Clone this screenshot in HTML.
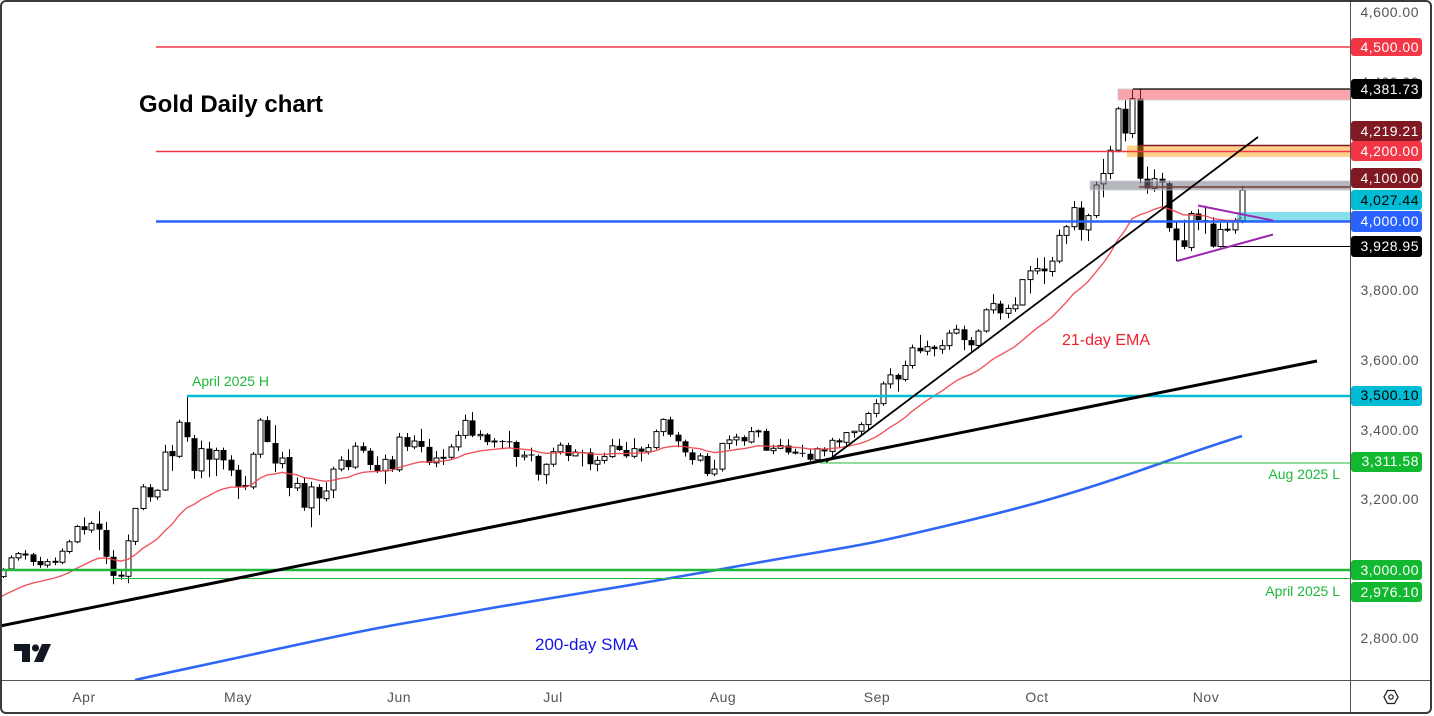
<!DOCTYPE html>
<html><head><meta charset="utf-8">
<style>
html,body{margin:0;padding:0;background:#fff;}
body{width:1434px;height:716px;overflow:hidden;position:relative;font-family:"Liberation Sans",sans-serif;}
svg{position:absolute;left:0;top:0;}
.ax{font-family:"Liberation Sans",sans-serif;font-size:14px;letter-spacing:0.5px;}
</style></head>
<body>
<svg id="s" width="1434" height="716" viewBox="0 0 1434 716" xmlns="http://www.w3.org/2000/svg">
<rect x="0" y="0" width="1434" height="716" fill="#fff"/>
<g id="candles"></g>
<path id="ema" fill="none" stroke="#f0434f" stroke-width="1.4" stroke-opacity="0.9"/>
<!-- 200 SMA -->
<path d="M135,680 C170,672 200,666 250,655 S350,633 400,624 S550,598 600,590 S700,573 750,564 S840,549 870,543 S990,516 1040,502 S1130,474 1150,467 S1220,443 1242,436" fill="none" stroke="#2f66f5" stroke-width="2.6"/>
<!-- zones -->
<rect x="1118" y="89" width="232" height="11" fill="rgba(242,54,69,0.45)" stroke="#c9ccd6" stroke-width="0.8"/>
<rect x="1127" y="145.5" width="223" height="11.5" fill="rgba(255,152,0,0.45)"/>
<rect x="1090" y="181" width="260" height="9" fill="rgba(120,123,134,0.55)" stroke="#c9ccd6" stroke-width="0.8"/>
<rect x="1237" y="212" width="113" height="9.5" fill="rgba(0,188,212,0.47)"/>
<!-- horizontal lines -->
<line x1="156" y1="47" x2="1350" y2="47" stroke="#f23645" stroke-width="1.6"/>
<line x1="156" y1="151.5" x2="1350" y2="151.5" stroke="#f23645" stroke-width="1.6"/>
<line x1="156" y1="221.5" x2="1350" y2="221.5" stroke="#2962ff" stroke-width="2.6"/>
<line x1="187" y1="396" x2="1350" y2="396" stroke="#00bcd4" stroke-width="2.6"/>
<line x1="820" y1="463" x2="1350" y2="463" stroke="#1fb83a" stroke-width="1"/>
<line x1="0" y1="570" x2="1350" y2="570" stroke="#1fb83a" stroke-width="2.6"/>
<line x1="113" y1="578.5" x2="1350" y2="578.5" stroke="#1fb83a" stroke-width="1"/>
<line x1="1133" y1="89" x2="1350" y2="89" stroke="#000" stroke-width="1.2"/>
<line x1="1140" y1="145.5" x2="1350" y2="145.5" stroke="#801922" stroke-width="1.6"/>
<line x1="1139" y1="187" x2="1350" y2="187" stroke="#7a3b3b" stroke-width="1.6"/>
<line x1="1222" y1="246.5" x2="1350" y2="246.5" stroke="#000" stroke-width="1"/>
<!-- purple triangle -->
<line x1="1198" y1="205.5" x2="1273" y2="220.5" stroke="#9c27b0" stroke-width="2"/>
<line x1="1177" y1="261" x2="1273" y2="234.5" stroke="#9c27b0" stroke-width="2"/>
<!-- trendlines -->
<line x1="0" y1="626" x2="1317" y2="361" stroke="#000" stroke-width="3"/>
<line x1="826" y1="462" x2="1258" y2="137" stroke="#000" stroke-width="1.8"/>
<!-- chart texts -->
<text x="139" y="112" font-family="Liberation Sans, sans-serif" font-size="24" font-weight="bold" fill="#000">Gold Daily chart</text>
<text x="192" y="386" font-family="Liberation Sans, sans-serif" font-size="14" fill="#1fb83a">April 2025 H</text>
<text x="1062" y="345" font-family="Liberation Sans, sans-serif" font-size="16" fill="#f2202e">21-day EMA</text>
<text x="1340" y="479" text-anchor="end" font-family="Liberation Sans, sans-serif" font-size="14" fill="#1fb83a">Aug 2025 L</text>
<text x="1340" y="596" text-anchor="end" font-family="Liberation Sans, sans-serif" font-size="14" fill="#1fb83a">April 2025 L</text>
<text x="535" y="650" font-family="Liberation Sans, sans-serif" font-size="17" fill="#1414e6">200-day SMA</text>
<!-- TV logo -->
<path d="M14,644 H30 V662 H22 V651 H14 Z" fill="#131722"/>
<circle cx="35.5" cy="648" r="3.6" fill="#131722"/>
<path d="M42,644 H51 L43,662 H34 Z" fill="#131722"/>
<!-- axes area -->
<rect x="1351" y="1" width="80" height="712" fill="#fff"/>
<rect x="1" y="681" width="1350" height="32" fill="#fff"/>
<line x1="1350.5" y1="0" x2="1350.5" y2="714" stroke="#555" stroke-width="1"/>
<line x1="0" y1="680.5" x2="1431" y2="680.5" stroke="#555" stroke-width="1"/>
<g class="ax" fill="#555" text-anchor="middle" font-size="13.5">
<text x="84" y="702">Apr</text>
<text x="238" y="702">May</text>
<text x="399" y="702">Jun</text>
<text x="553" y="702">Jul</text>
<text x="723" y="702">Aug</text>
<text x="877" y="702">Sep</text>
<text x="1037" y="702">Oct</text>
<text x="1206" y="702">Nov</text>
</g>
<!-- settings icon -->
<polygon points="1384,697 1387.5,690.5 1394.5,690.5 1398,697 1394.5,703.5 1387.5,703.5" fill="none" stroke="#222" stroke-width="1.3"/>
<circle cx="1391" cy="697" r="2.2" fill="none" stroke="#222" stroke-width="1.2"/>
<!-- price axis labels -->
<g class="ax" text-anchor="end" fill="#555">
<text x="1419" y="17">4,600.00</text>
<text x="1419" y="87">4,400.00</text>
<text x="1419" y="295">3,800.00</text>
<text x="1419" y="365">3,600.00</text>
<text x="1419" y="435">3,400.00</text>
<text x="1419" y="504">3,200.00</text>
<text x="1419" y="643">2,800.00</text>
</g>
<g class="ax" text-anchor="end">
<rect x="1351" y="38" width="71" height="18" rx="3" fill="#f23645"/><text x="1419" y="52" fill="#fff">4,500.00</text>
<rect x="1351" y="79" width="71" height="20" rx="3" fill="#000"/><text x="1419" y="94" fill="#fff">4,381.73</text>
<rect x="1351" y="121" width="71" height="20" rx="3" fill="#801922"/><text x="1419" y="136" fill="#fff">4,219.21</text>
<rect x="1351" y="141" width="71" height="20" rx="3" fill="#f23645"/><text x="1419" y="156" fill="#fff">4,200.00</text>
<rect x="1351" y="168" width="71" height="20" rx="3" fill="#801922"/><text x="1419" y="183" fill="#fff">4,100.00</text>
<rect x="1351" y="190" width="71" height="20" rx="3" fill="#00bcd4"/><text x="1419" y="205" fill="#000">4,027.44</text>
<rect x="1351" y="211" width="71" height="21" rx="3" fill="#2962ff"/><text x="1419" y="226" fill="#fff">4,000.00</text>
<rect x="1351" y="236" width="71" height="21" rx="3" fill="#000"/><text x="1419" y="251" fill="#fff">3,928.95</text>
<rect x="1351" y="386" width="71" height="20" rx="3" fill="#00bcd4"/><text x="1419" y="400" fill="#000">3,500.10</text>
<rect x="1351" y="452" width="71" height="20" rx="3" fill="#12b830"/><text x="1419" y="466" fill="#fff">3,311.58</text>
<rect x="1351" y="560" width="71" height="20" rx="3" fill="#12b830"/><text x="1419" y="575" fill="#fff">3,000.00</text>
<rect x="1351" y="582" width="71" height="20" rx="3" fill="#12b830"/><text x="1419" y="597" fill="#fff">2,976.10</text>
</g>
<rect x="1" y="1" width="1430" height="712" rx="5" fill="none" stroke="#3a3a3a" stroke-width="2"/>
</svg>
<script>
(function(){
var D=[
[2979,3004,2975,2999],[3001,3040,2995,3033],[3033,3050,3025,3045],[3042,3055,3028,3044],[3043,3047,3010,3021],
[3024,3036,3004,3012],[3012,3030,3005,3022],[3021,3034,3012,3023],[3020,3060,3015,3052],[3051,3085,3045,3079],
[3079,3128,3075,3123],
[3124,3149,3100,3113],[3113,3138,3105,3132],[3131,3167,3055,3114],[3113,3136,3015,3036],[3036,3055,2957,2981],
[2981,3000,2970,2983],[2980,3100,2960,3082],[3080,3176,3070,3175],[3175,3245,3170,3237],[3236,3245,3194,3207],
[3208,3230,3200,3227],[3228,3358,3225,3337],[3340,3357,3283,3325],[3325,3430,3320,3423],[3423,3500,3367,3380],
[3377,3386,3260,3283],[3283,3370,3262,3347],[3347,3367,3265,3315],[3317,3350,3268,3342],[3343,3350,3287,3313],
[3315,3328,3268,3284],
[3286,3300,3202,3238],[3240,3268,3228,3241],[3237,3337,3230,3331],[3331,3435,3320,3429],[3429,3440,3365,3366],
[3363,3414,3280,3304],[3304,3338,3290,3320],[3323,3345,3210,3234],[3234,3264,3225,3247],[3248,3265,3168,3177],
[3177,3252,3121,3237],[3237,3245,3156,3204],[3203,3250,3195,3225],[3228,3295,3205,3288],[3288,3325,3282,3314],
[3314,3345,3285,3294],[3294,3365,3288,3354],[3354,3365,3335,3341],[3341,3348,3285,3300],[3300,3325,3277,3283],
[3283,3330,3245,3316],[3316,3326,3280,3288],
[3286,3392,3280,3380],[3380,3392,3340,3352],[3352,3385,3345,3369],[3369,3404,3336,3352],[3352,3375,3300,3306],
[3306,3340,3293,3320],[3321,3345,3300,3322],[3322,3360,3315,3352],[3352,3398,3340,3385],[3385,3445,3375,3428],
[3428,3452,3380,3384],[3384,3400,3372,3388],[3388,3392,3357,3366],[3366,3377,3350,3369],[3369,3372,3345,3368],
[3368,3398,3348,3367],[3366,3370,3295,3323],[3323,3340,3313,3328],[3330,3350,3310,3327],[3326,3330,3255,3272],
[3272,3305,3245,3302],
[3302,3350,3295,3338],[3338,3365,3330,3357],[3357,3364,3311,3326],[3326,3345,3325,3337],[3337,3344,3296,3336],
[3336,3348,3285,3302],[3302,3325,3282,3313],[3313,3335,3304,3324],[3324,3375,3320,3355],[3355,3375,3340,3343],
[3343,3366,3320,3325],[3325,3377,3319,3347],[3347,3353,3310,3338],[3338,3360,3330,3350],[3350,3402,3345,3396],
[3396,3434,3383,3431],[3431,3439,3381,3387],[3387,3394,3351,3368],[3368,3373,3324,3336],[3336,3345,3301,3314],
[3314,3334,3309,3326],[3326,3334,3268,3274],[3274,3315,3268,3288],
[3288,3363,3281,3362],[3362,3385,3345,3372],[3372,3390,3355,3380],[3380,3385,3355,3368],[3366,3409,3362,3396],
[3396,3402,3380,3398],[3398,3404,3341,3341],[3341,3358,3331,3348],[3348,3375,3345,3356],[3356,3374,3330,3336],
[3336,3347,3330,3337],[3335,3358,3323,3332],[3332,3345,3311,3315],[3315,3351,3311,3347],[3347,3351,3325,3339],
[3339,3378,3322,3371],[3371,3376,3350,3365],[3365,3394,3351,3393],[3393,3398,3378,3397],[3397,3423,3385,3416],
[3416,3453,3402,3448],
[3448,3489,3437,3476],[3476,3540,3470,3533],[3533,3578,3520,3559],[3559,3563,3511,3546],[3546,3600,3540,3586],
[3586,3646,3577,3637],[3637,3674,3621,3627],[3627,3657,3615,3640],[3640,3645,3612,3633],[3633,3660,3620,3643],
[3643,3688,3631,3679],[3679,3703,3675,3690],[3690,3700,3630,3659],[3659,3668,3627,3644],[3644,3690,3634,3685],
[3685,3750,3680,3746],[3746,3791,3735,3764],[3764,3772,3718,3736],[3736,3761,3722,3750],[3749,3782,3740,3760],
[3760,3834,3758,3833],[3833,3872,3793,3858],
[3858,3895,3848,3865],[3865,3897,3820,3857],[3856,3898,3842,3886],[3886,3977,3880,3960],[3960,3990,3935,3985],
[3985,4059,3975,4040],[4040,4058,3945,3976],[3976,4022,3944,4017],[4017,4116,4010,4105],[4108,4180,4070,4138],
[4138,4218,4122,4205],[4205,4330,4199,4324],[4324,4350,4230,4253],[4253,4381,4240,4353],[4353,4381,4110,4123],
[4123,4158,4080,4095],[4095,4150,4085,4123],[4123,4140,4040,4112],[4110,4118,3970,3981],[3980,4000,3886,3946],
[3946,4005,3920,3927],[3925,4030,3915,4023],[4023,4035,3975,4004],
[4004,4045,3965,4000],[3994,4012,3925,3928],[3928,3995,3925,3977],[3977,4000,3970,3978],[3976,4010,3965,4003],
[4003,4103,3995,4090]
];
var g=document.getElementById("candles");
function X(i){return 84+7.33*i;}
function Y(p){return 221.5+(4000-p)*0.3478;}
var html="";
var e=2918, a=2/22, pts=["M0,"+Y(2918).toFixed(1)];
for(var k=0;k<D.length;k++){
  var i=k-11, d=D[k], o=d[0], h=d[1], l=d[2], c=d[3];
  var x=Math.round(X(i));
  html+='<line x1="'+(x+0.5)+'" y1="'+Y(h).toFixed(1)+'" x2="'+(x+0.5)+'" y2="'+Y(l).toFixed(1)+'" stroke="#000" stroke-width="1"/>';
  var top=Y(Math.max(o,c)), bot=Y(Math.min(o,c)), ht=Math.max(1,bot-top);
  if(c>=o){
    html+='<rect x="'+(x-2)+'" y="'+top.toFixed(1)+'" width="5" height="'+ht.toFixed(1)+'" fill="#fff" stroke="#000" stroke-width="1"/>';
  } else {
    html+='<rect x="'+(x-2.5)+'" y="'+top.toFixed(1)+'" width="6" height="'+ht.toFixed(1)+'" fill="#000"/>';
  }
  e=e+a*(c-e);
  pts.push("L"+X(i).toFixed(1)+","+Y(e).toFixed(1));
}
g.innerHTML=html;
document.getElementById("ema").setAttribute("d",pts.join(" "));
})();
</script>
</body></html>
